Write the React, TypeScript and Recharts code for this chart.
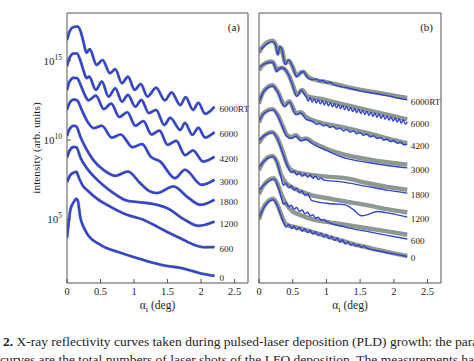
import { LineChart, Line, XAxis, YAxis } from 'recharts';

type Pt = [number, number];

// curve names (total laser shots), top to bottom
const shotLabels = ['6000RT', '6000', '4200', '3000', '1800', '1200', '600', '0'];

const xTicks = [0, 0.5, 1, 1.5, 2, 2.5];
const yTicks = [5, 10, 15];

// panel (a): [alpha_i (deg), log10 intensity]
const a6000RT: Pt[] = [[0, 16.3], [0.04, 16.85], [0.09, 17.1], [0.16, 17.15], [0.21, 16.75], [0.25, 16.1], [0.29, 15.5], [0.34, 15.72], [0.44, 14.73], [0.53, 15.04], [0.64, 14.21], [0.72, 14.46], [0.82, 13.58], [0.91, 13.99], [1.01, 13.16], [1.1, 13.53], [1.2, 12.74], [1.33, 13.3], [1.46, 12.5], [1.56, 13.0], [1.69, 12.2], [1.77, 12.7], [1.88, 11.9], [1.96, 12.35], [2.06, 11.65], [2.2, 12.1]];
const a6000: Pt[] = [[0, 14.65], [0.04, 15.2], [0.1, 15.45], [0.15, 15.45], [0.2, 15.0], [0.26, 14.2], [0.29, 13.9], [0.33, 14.0], [0.43, 13.16], [0.52, 13.68], [0.62, 12.74], [0.72, 13.26], [0.82, 12.42], [0.91, 12.84], [1.02, 12.1], [1.11, 12.53], [1.22, 11.7], [1.33, 11.9], [1.45, 10.95], [1.54, 11.4], [1.69, 10.64], [1.76, 11.08], [1.87, 10.33], [1.96, 10.77], [2.06, 10.16], [2.2, 10.5]];
const a4200: Pt[] = [[0, 13.15], [0.04, 13.7], [0.1, 13.92], [0.15, 13.9], [0.21, 13.4], [0.27, 12.8], [0.32, 12.5], [0.43, 12.8], [0.55, 11.95], [0.66, 12.3], [0.78, 11.45], [0.9, 11.75], [1.02, 10.9], [1.14, 11.2], [1.26, 10.35], [1.38, 10.6], [1.5, 9.7], [1.63, 9.95], [1.76, 9.05], [1.88, 9.35], [2.03, 8.65], [2.2, 8.95]];
const a3000: Pt[] = [[0, 11.9], [0.04, 12.35], [0.1, 12.55], [0.15, 12.5], [0.22, 11.9], [0.3, 11.2], [0.4, 10.75], [0.52, 10.9], [0.67, 10.15], [0.8, 10.35], [0.98, 9.55], [1.12, 9.75], [1.25, 8.95], [1.39, 8.65], [1.61, 7.6], [1.76, 8.13], [2.01, 7.18], [2.2, 7.5]];
const a1800: Pt[] = [[0, 10.25], [0.04, 10.7], [0.1, 10.9], [0.14, 10.85], [0.2, 10.2], [0.28, 9.5], [0.4, 8.7], [0.55, 8.1], [0.72, 7.75], [0.91, 8.02], [1.09, 7.29], [1.24, 6.76], [1.34, 6.66], [1.59, 7.08], [1.8, 6.4], [1.99, 5.92], [2.2, 6.24]];
const a1200: Pt[] = [[0, 8.9], [0.04, 9.35], [0.1, 9.57], [0.14, 9.55], [0.2, 8.9], [0.3, 8.2], [0.45, 7.5], [0.6, 6.95], [0.75, 6.5], [0.88, 6.2], [1.05, 6.1], [1.25, 6.0], [1.5, 5.7], [1.75, 5.0], [1.96, 4.6], [2.2, 4.87]];
const a600: Pt[] = [[0, 7.35], [0.05, 7.8], [0.1, 7.95], [0.14, 8.0], [0.18, 7.6], [0.24, 7.1], [0.3, 6.85], [0.45, 6.3], [0.64, 5.82], [0.89, 5.3], [1.14, 4.98], [1.3, 4.65], [1.5, 4.2], [1.7, 3.8], [1.9, 3.4], [2.05, 3.25], [2.2, 3.26]];
const a0: Pt[] = [[0, 3.85], [0.02, 4.6], [0.05, 5.6], [0.1, 6.1], [0.14, 6.3], [0.16, 6.2], [0.2, 5.1], [0.25, 4.5], [0.3, 4.1], [0.5, 3.4], [0.8, 2.9], [1.1, 2.5], [1.4, 2.15], [1.75, 1.9], [2.0, 1.6], [2.2, 1.45]];

// panel (b): measured data (gray) and fits (blue)
const b6000RTData: Pt[] = [[0, 15.5], [0.05, 15.85], [0.2, 16.25], [0.25, 16.0], [0.28, 15.45], [0.31, 15.85], [0.34, 15.7], [0.39, 14.85], [0.44, 15.0], [0.5, 14.6], [0.56, 14.05], [0.62, 14.25], [0.66, 14.3], [0.72, 14.0], [0.79, 13.85], [1.0, 13.65], [1.2, 13.45], [1.4, 13.25], [1.6, 13.1], [1.8, 12.95], [2.0, 12.8], [2.2, 12.65]];
const b6000RTFit: Pt[] = [[0.03, 15.7], [0.1, 16.0], [0.2, 16.2], [0.25, 15.95], [0.28, 15.35], [0.31, 15.9], [0.34, 15.7], [0.39, 14.75], [0.44, 15.05], [0.5, 14.6], [0.56, 14.0], [0.62, 14.25], [0.66, 14.3], [0.72, 13.95], [0.79, 13.8], [0.85, 13.85], [0.9, 13.7], [0.95, 13.75], [1.0, 13.6], [1.05, 13.65], [1.1, 13.5], [1.3, 13.3], [1.5, 13.1], [1.7, 12.95], [1.9, 12.8], [2.05, 12.65], [2.2, 12.53]];
const b6000Data: Pt[] = [[0, 14.4], [0.05, 14.7], [0.19, 14.95], [0.24, 14.65], [0.26, 14.4], [0.3, 14.5], [0.34, 14.55], [0.44, 14.1], [0.5, 13.5], [0.56, 12.85], [0.64, 13.15], [0.72, 12.75], [0.9, 12.6], [1.2, 12.3], [1.5, 12.0], [1.8, 11.7], [2.0, 11.5], [2.2, 11.3]];
const b6000Fit: Pt[] = [[0.01, 14.6], [0.08, 14.8], [0.19, 14.9], [0.24, 14.6], [0.26, 14.3], [0.3, 14.5], [0.34, 14.55], [0.44, 14.1], [0.5, 13.4], [0.56, 12.75], [0.63, 13.16], [0.67, 12.9], [0.7, 12.72], [0.73, 12.45], [0.76, 12.66], [0.79, 12.39], [0.82, 12.6], [0.85, 12.33], [0.88, 12.54], [0.91, 12.27], [0.94, 12.48], [0.97, 12.21], [1.0, 12.42], [1.03, 12.15], [1.06, 12.36], [1.09, 12.09], [1.12, 12.3], [1.15, 12.03], [1.18, 12.24], [1.21, 11.97], [1.24, 12.18], [1.27, 11.91], [1.3, 12.12], [1.33, 11.85], [1.36, 12.06], [1.39, 11.79], [1.42, 12.0], [1.45, 11.73], [1.48, 11.94], [1.51, 11.67], [1.54, 11.88], [1.57, 11.61], [1.6, 11.82], [1.63, 11.55], [1.66, 11.76], [1.69, 11.49], [1.72, 11.7], [1.75, 11.43], [1.78, 11.64], [1.81, 11.37], [1.84, 11.58], [1.87, 11.31], [1.9, 11.52], [1.93, 11.25], [1.96, 11.46], [1.99, 11.19], [2.02, 11.4], [2.05, 11.13], [2.08, 11.34], [2.11, 11.07], [2.14, 11.28], [2.17, 11.01], [2.2, 11.15]];
const b4200Data: Pt[] = [[0, 12.3], [0.06, 13.0], [0.2, 13.45], [0.28, 13.05], [0.38, 12.2], [0.45, 12.45], [0.55, 11.7], [0.62, 11.75], [0.7, 11.45], [0.8, 11.25], [1.2, 10.85], [1.6, 10.45], [2.0, 10.0], [2.2, 9.8]];
const b4200Fit: Pt[] = [[0.01, 12.5], [0.08, 13.1], [0.2, 13.4], [0.28, 13.0], [0.38, 12.1], [0.45, 12.4], [0.55, 11.6], [0.62, 11.7], [0.7, 11.3], [0.8, 11.16], [0.85, 10.99], [0.9, 11.06], [0.95, 10.89], [1.0, 10.96], [1.05, 10.79], [1.1, 10.86], [1.15, 10.69], [1.2, 10.76], [1.25, 10.59], [1.3, 10.67], [1.35, 10.5], [1.4, 10.57], [1.45, 10.4], [1.5, 10.47], [1.55, 10.3], [1.6, 10.37], [1.65, 10.2], [1.7, 10.27], [1.75, 10.1], [1.8, 10.17], [1.85, 10.0], [1.9, 10.07], [1.95, 9.9], [2.0, 9.97], [2.05, 9.8], [2.1, 9.87], [2.15, 9.7], [2.2, 9.74]];
const b3000Data: Pt[] = [[0, 11.1], [0.06, 11.65], [0.2, 11.95], [0.27, 11.65], [0.35, 10.9], [0.42, 10.3], [0.48, 10.2], [0.55, 10.3], [0.62, 10.05], [0.7, 10.1], [0.8, 9.85], [1.0, 9.45], [1.28, 9.07], [1.6, 8.8], [1.9, 8.6], [2.2, 8.45]];
const b3000Fit: Pt[] = [[0.01, 11.27], [0.08, 11.7], [0.2, 11.9], [0.27, 11.6], [0.35, 10.8], [0.42, 10.2], [0.48, 10.1], [0.55, 10.25], [0.62, 9.95], [0.7, 10.05], [0.8, 9.75], [1.0, 9.35], [1.28, 8.86], [1.6, 8.6], [1.9, 8.4], [2.2, 8.25]];
const b1800Data: Pt[] = [[0, 9.8], [0.06, 10.2], [0.2, 10.5], [0.27, 10.15], [0.35, 9.3], [0.42, 8.45], [0.5, 8.05], [0.7, 7.85], [1.0, 7.7], [1.28, 7.6], [1.6, 7.3], [1.9, 7.05], [2.2, 6.87]];
const b1800Fit: Pt[] = [[0.01, 10.0], [0.08, 10.3], [0.2, 10.47], [0.27, 10.1], [0.35, 9.2], [0.42, 8.4], [0.48, 7.95], [0.52, 8.05], [0.56, 7.8], [0.6, 7.95], [0.64, 7.72], [0.68, 7.88], [0.72, 7.66], [0.76, 7.8], [0.8, 7.6], [0.84, 7.72], [0.88, 7.52], [0.92, 7.62], [0.96, 7.48], [1.2, 7.38], [1.6, 7.08], [1.9, 6.85], [2.2, 6.66]];
const b1200Data: Pt[] = [[0, 8.1], [0.06, 8.6], [0.2, 9.0], [0.27, 8.6], [0.33, 7.8], [0.4, 7.3], [0.5, 7.0], [0.6, 6.8], [0.8, 6.5], [1.0, 6.35], [1.28, 6.13], [1.6, 5.9], [1.9, 5.65], [2.2, 5.44]];
const b1200Fit: Pt[] = [[0.01, 8.33], [0.08, 8.7], [0.2, 8.96], [0.27, 8.55], [0.33, 7.6], [0.36, 7.15], [0.4, 7.28], [0.44, 7.0], [0.48, 7.12], [0.52, 6.85], [0.56, 6.98], [0.6, 6.7], [0.64, 6.8], [0.68, 6.52], [0.72, 6.6], [0.78, 6.2], [1.0, 6.02], [1.28, 5.92], [1.4, 5.62], [1.52, 5.23], [1.62, 5.32], [1.75, 5.5], [1.95, 5.38], [2.2, 5.15]];
const b600Data: Pt[] = [[0, 6.6], [0.06, 7.1], [0.22, 7.6], [0.28, 7.2], [0.33, 6.6], [0.4, 6.0], [0.5, 5.5], [0.6, 5.3], [0.8, 5.0], [1.0, 4.85], [1.28, 4.67], [1.6, 4.45], [1.9, 4.25], [2.2, 4.04]];
const b600Fit: Pt[] = [[0.01, 6.87], [0.08, 7.2], [0.22, 7.54], [0.28, 7.1], [0.33, 6.4], [0.36, 5.95], [0.4, 6.05], [0.44, 5.8], [0.48, 5.9], [0.52, 5.65], [0.56, 5.75], [0.6, 5.5], [0.64, 5.6], [0.68, 5.36], [0.72, 5.45], [0.76, 5.22], [0.8, 5.3], [0.84, 5.08], [0.88, 5.15], [0.92, 4.95], [0.96, 5.0], [1.0, 4.88], [1.28, 4.52], [1.6, 4.25], [1.9, 4.0], [2.2, 3.77]];
const b0Data: Pt[] = [[0, 5.0], [0.06, 5.7], [0.21, 6.3], [0.28, 5.85], [0.33, 5.3], [0.4, 4.7], [0.6, 4.45], [0.8, 4.2], [1.0, 3.95], [1.2, 3.7], [1.4, 3.45], [1.6, 3.25], [1.8, 3.05], [2.0, 2.87], [2.2, 2.7]];
const b0Fit: Pt[] = [[0.01, 5.19], [0.08, 5.8], [0.21, 6.24], [0.28, 5.8], [0.33, 5.2], [0.36, 4.85], [0.4, 4.52], [0.44, 4.68], [0.48, 4.43], [0.52, 4.59], [0.56, 4.35], [0.6, 4.5], [0.64, 4.26], [0.68, 4.41], [0.72, 4.17], [0.76, 4.32], [0.8, 4.08], [0.84, 4.23], [0.88, 3.99], [0.92, 4.14], [0.96, 3.89], [1.0, 4.04], [1.04, 3.79], [1.08, 3.93], [1.12, 3.68], [1.16, 3.83], [1.2, 3.57], [1.24, 3.72], [1.28, 3.46], [1.32, 3.59], [1.36, 3.38], [1.4, 3.48], [1.44, 3.31], [1.48, 3.39], [1.52, 3.24], [1.56, 3.31], [1.6, 3.19], [1.8, 3.0], [2.0, 2.83], [2.2, 2.67]];

const panelA = [a6000RT, a6000, a4200, a3000, a1800, a1200, a600, a0].map((pts) => ({ data: pts, fit: pts }));
const panelB = [
  { data: b6000RTData, fit: b6000RTFit },
  { data: b6000Data, fit: b6000Fit },
  { data: b4200Data, fit: b4200Fit },
  { data: b3000Data, fit: b3000Fit },
  { data: b1800Data, fit: b1800Fit },
  { data: b1200Data, fit: b1200Fit },
  { data: b600Data, fit: b600Fit },
  { data: b0Data, fit: b0Fit },
];

const FONT = '"Liberation Serif", "Times New Roman", serif';
const INK = '#1e1e1e';
const AXIS = '#555555';
const BLUE = '#3143d2';
const GRAY = '#8c9891';

const rows = (pts: Pt[]) => pts.map(([a, v]) => ({ a, v }));

const PowTick = (props: any) => {
  const { x, y, payload } = props;
  return (
    <text x={x} y={y + 4} textAnchor="end" fontFamily={FONT} fontSize={11} fill={INK}>
      <tspan>10</tspan>
      <tspan dy={-5} fontSize={7.5}>{payload.value}</tspan>
    </text>
  );
};

const endLabel = (text: string, n: number, dx: number) => (p: any) =>
  p.index === n - 1 ? (
    <text x={p.x + dx} y={p.y + 5} fontFamily={FONT} fontSize={9.2} fill={INK}>
      {text}
    </text>
  ) : (
    <g />
  );

function Panel({ curves, tag, showY, width, margin, dataWidth, fitWidth, labelDx }: any) {
  return (
    <LineChart width={width} height={320} margin={margin}>
      <XAxis
        xAxisId="b"
        dataKey="a"
        type="number"
        domain={[0, 2.7]}
        ticks={xTicks}
        allowDataOverflow
        height={37}
        stroke={AXIS}
        tickSize={-4}
        tickMargin={9}
        tick={{ fontFamily: FONT, fontSize: 10.5, fill: INK }}
        label={{
          content: (lp: any) => {
            const vb = lp.viewBox;
            const cx = vb.x + vb.width / 2;
            return (
              <text x={cx} y={vb.y + 26} textAnchor="middle" fontFamily={FONT} fontSize={11.5} fill={INK}>
                <tspan>α</tspan>
                <tspan dy={3} fontSize={8.5}>i</tspan>
                <tspan dy={-3}> (deg)</tspan>
              </text>
            );
          },
        }}
      />
      <XAxis
        xAxisId="t"
        orientation="top"
        dataKey="a"
        type="number"
        domain={[0, 2.7]}
        ticks={xTicks}
        allowDataOverflow
        height={1}
        stroke={AXIS}
        tickSize={-4}
        tick={false}
        label={{
          content: (lp: any) => {
            const vb = lp.viewBox;
            return (
              <text x={vb.x + vb.width - 8} y={vb.y + 19} textAnchor="end" fontFamily={FONT} fontSize={11} fill={INK}>
                {tag}
              </text>
            );
          },
        }}
      />
      <YAxis
        yAxisId="l"
        type="number"
        domain={[1, 18]}
        ticks={yTicks}
        allowDataOverflow
        width={showY ? 60 : 5}
        stroke={AXIS}
        tickSize={-4}
        tickMargin={9}
        tick={showY ? <PowTick /> : false}
        label={
          showY
            ? {
                content: (lp: any) => {
                  const vb = lp.viewBox;
                  const cx = vb.x + 30;
                  const cy = vb.y + vb.height / 2;
                  return (
                    <text
                      transform={`translate(${cx},${cy}) rotate(-90)`}
                      textAnchor="middle"
                      dominantBaseline="middle"
                      fontFamily={FONT}
                      fontSize={11.3}
                      fill={INK}
                    >
                      intensity (arb. units)
                    </text>
                  );
                },
              }
            : undefined
        }
      />
      <YAxis
        yAxisId="r"
        orientation="right"
        type="number"
        domain={[1, 18]}
        ticks={yTicks}
        allowDataOverflow
        width={1}
        stroke={AXIS}
        tickSize={-4}
        tick={false}
      />
      {curves.map((c: any, i: number) => (
        <Line
          key={'d' + i}
          xAxisId="b"
          yAxisId="l"
          data={rows(c.data)}
          dataKey="v"
          type="monotone"
          stroke={GRAY}
          strokeWidth={dataWidth}
          dot={false}
          activeDot={false}
          isAnimationActive={false}
        />
      ))}
      {curves.map((c: any, i: number) => (
        <Line
          key={'f' + i}
          xAxisId="b"
          yAxisId="l"
          data={rows(c.fit)}
          dataKey="v"
          type="monotone"
          stroke={BLUE}
          strokeWidth={fitWidth}
          dot={false}
          activeDot={false}
          isAnimationActive={false}
          label={endLabel(shotLabels[i], c.fit.length, labelDx)}
        />
      ))}
    </LineChart>
  );
}

export default function App() {
  return (
    <div
      style={{
        position: 'fixed',
        left: 0,
        top: 0,
        width: 474,
        height: 361,
        overflow: 'hidden',
        background: '#fff',
      }}
    >
      <div style={{ position: 'absolute', left: 0, top: 0 }}>
        <Panel
          curves={panelA}
          tag="(a)"
          showY
          width={250}
          margin={{ top: 12, right: 1, left: 7, bottom: 0 }}
          dataWidth={3.0}
          fitWidth={2.2}
          labelDx={5}
        />
      </div>
      <div style={{ position: 'absolute', left: 250, top: 0 }}>
        <Panel
          curves={panelB}
          tag="(b)"
          showY={false}
          width={224}
          margin={{ top: 12, right: 32, left: 4, bottom: 0 }}
          dataWidth={4.4}
          fitWidth={1.4}
          labelDx={3.5}
        />
      </div>
      {/* caption, cut by the crop on both sides */}
      <div
        style={{
          position: 'absolute',
          left: 3,
          top: 333,
          fontFamily: FONT,
          fontSize: 13.5,
          lineHeight: '18px',
          color: INK,
          whiteSpace: 'nowrap',
        }}
      >
        <b>2.</b> X-ray reflectivity curves taken during pulsed-laser deposition (PLD) growth: the para
      </div>
      <div
        style={{
          position: 'absolute',
          left: 0,
          top: 351,
          fontFamily: FONT,
          fontSize: 13.5,
          lineHeight: '18px',
          color: INK,
          whiteSpace: 'nowrap',
        }}
      >
        curves are the total numbers of laser shots of the LFO deposition. The measurements hav
      </div>
    </div>
  );
}
